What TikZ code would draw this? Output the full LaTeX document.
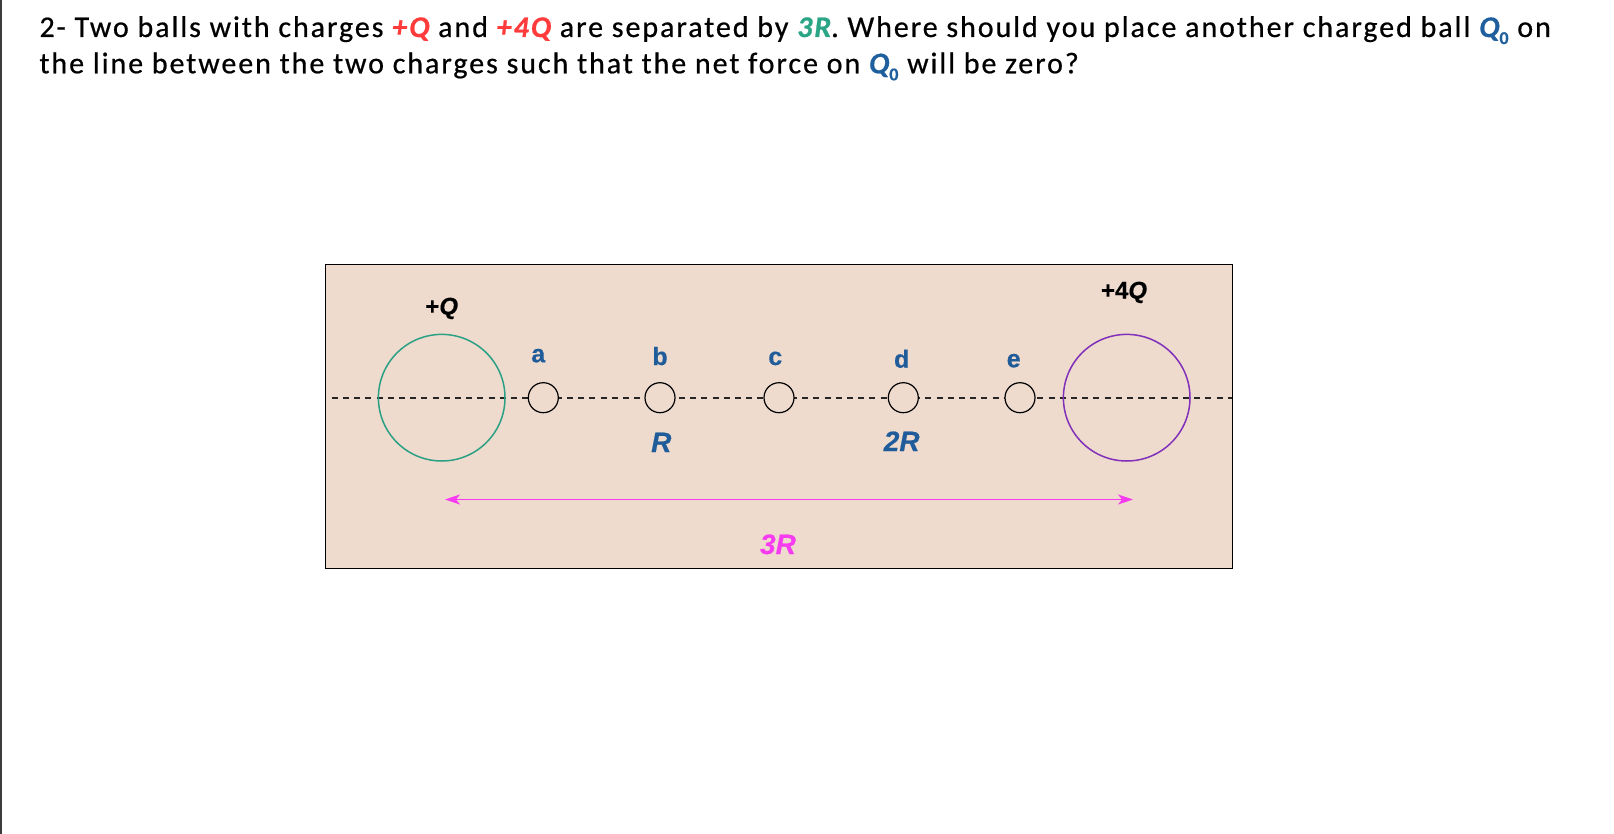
\documentclass[tikz,border=0pt]{standalone}
\usepackage{fontspec}
\setmainfont{Carlito}[LetterSpace=6.5, UprightFeatures={FakeBold=0.6}, BoldFont=Carlito Bold, BoldItalicFont=Carlito Bold Italic, BoldFeatures={FakeBold=0.6}, BoldItalicFeatures={FakeBold=0.6}]
\newfontfamily\lab{Liberation Sans}[BoldFeatures={FakeBold=0.4}, BoldItalicFeatures={FakeBold=0.4}]
\usetikzlibrary{arrows.meta}
\definecolor{bgtan}{RGB}{238,219,206}
\definecolor{qred}{RGB}{255,59,59}
\definecolor{qteal}{RGB}{42,165,134}
\definecolor{qblue}{RGB}{31,95,158}
\definecolor{lblue}{RGB}{31,92,153}
\definecolor{cgreen}{RGB}{43,160,132}
\definecolor{cpurple}{RGB}{128,48,186}
\definecolor{cmag}{RGB}{247,59,240}
\definecolor{edge}{RGB}{60,60,60}
\newcommand{\qzero}{{\bfseries\itshape Q}\raisebox{-7pt}{\fontsize{18}{18}\selectfont\bfseries 0}}
\tikzset{
  titletext/.style={anchor=base west, inner sep=0pt, font=\fontsize{30}{30}\selectfont},
  ptlabel/.style={anchor=base, inner sep=0pt, text=lblue, font=\lab\bfseries\fontsize{25}{25}\selectfont},
  distlabel/.style={anchor=base, inner sep=0pt, text=lblue, font=\lab\bfseries\itshape\fontsize{28}{28}\selectfont},
  chglabel/.style={anchor=base, inner sep=0pt, font=\lab\bfseries\fontsize{24}{24}\selectfont},
  smallball/.style={circle, draw=black, fill=bgtan, line width=1.2pt, minimum size=30pt, inner sep=0pt},
  bigball/.style={circle, line width=1.5pt, minimum size=126.6pt, inner sep=0pt},
  axisline/.style={draw=black!85, line width=1.7pt, dash pattern=on 6pt off 5.2pt},
  distarrow/.style={draw=cmag, line width=1.5pt, {Stealth[length=15pt,width=10pt,inset=4pt]}-{Stealth[length=15pt,width=10pt,inset=4pt]}}
}
\begin{document}
\begin{tikzpicture}[x=1pt,y=-1pt]
\useasboundingbox (0,0) rectangle (1614,834);
\fill[white] (0,0) rectangle (1614,834);
\draw[edge, line width=1.5pt] (0.75,0) -- (0.75,834);
% title
\node[titletext] (title1) at (39.3,37) {2- Two balls with charges {\color{qred}\bfseries\itshape +Q} and {\color{qred}\bfseries\itshape +4Q} are separated by {\color{qteal}\bfseries\itshape 3R}. Where should you place another charged ball {\color{qblue}\qzero} on};
\node[titletext] (title2) at (39.3,73.3) {the line between the two charges such that the net force on {\color{qblue}\qzero} will be zero?};
% panel
\draw[fill=bgtan, draw=black, line width=1.2pt] (325.7,264.3) rectangle (1232.3,568.3);
% axis
\coordinate (axL) at (331.7,397.7);
\coordinate (axR) at (1231.5,397.7);
\draw[axisline] (axL) -- (axR);
% big charges
\node[bigball, draw=cgreen] (Q1) at (441.7,397.7) {};
\node[bigball, draw=cpurple] (Q4) at (1126.7,397.7) {};
% small balls
\node[smallball] (a) at (543.3,397.7) {};
\node[smallball] (b) at (660,397.7) {};
\node[smallball] (c) at (779,397.7) {};
\node[smallball] (d) at (903.3,397.7) {};
\node[smallball] (e) at (1020,397.7) {};
% labels
\node[chglabel] (lQ1) at (441.7,314.5) {+\textit{Q}};
\node[chglabel] (lQ4) at (1124,298.5) {+4\textit{Q}};
\node[ptlabel] (la) at (538.3,362.3) {a};
\node[ptlabel] (lb) at (660,365) {b};
\node[ptlabel] (lc) at (775.3,365) {c};
\node[ptlabel] (ld) at (901.7,367.7) {d};
\node[ptlabel] (le) at (1013.7,367.3) {e};
\node[distlabel] (lR) at (661.3,452) {R};
\node[distlabel] (l2R) at (901.7,451) {2\textit{R}};
% distance arrow
\coordinate (arL) at (445,499.5);
\coordinate (arR) at (1133,499.5);
\draw[distarrow] (arL) -- (arR);
\node[distlabel, text=cmag] (l3R) at (778,554) {3\textit{R}};
\end{tikzpicture}
\end{document}
